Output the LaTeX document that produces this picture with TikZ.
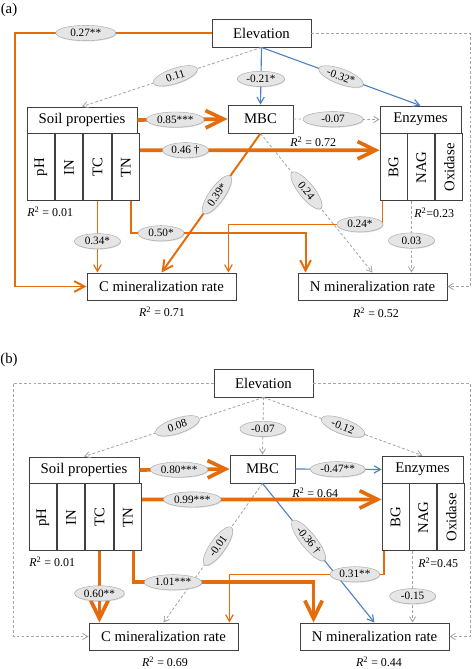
\documentclass[tikz,border=0pt]{standalone}
\usepackage{fontspec}
\usepackage{graphicx}
\setmainfont{Liberation Serif}
\usetikzlibrary{arrows.meta,shapes.geometric,shadows}

\definecolor{pathorange}{RGB}{228,108,10}
\definecolor{pathblue}{RGB}{79,129,189}
\definecolor{pathgray}{RGB}{165,165,165}

\tikzset{
  box/.style={draw=black!75, line width=0.6pt, fill=white, inner sep=0pt,
    font=\fontsize{10.5}{12}\selectfont},
  cell/.style={box, minimum width=0.6875cm, minimum height=1.675cm},
  rsq/.style={font=\fontsize{8.5}{10}\selectfont, inner sep=0pt},
  lbl/.style={ellipse, solid, draw=black!35, line width=0.3pt, fill=black!10,
    inner xsep=1.5pt, inner ysep=0pt, minimum height=0.38cm, minimum width=1.15cm,
    font=\fontsize{8}{9}\selectfont,
    drop shadow={shadow xshift=0.4pt, shadow yshift=-0.6pt, opacity=0.3}},
  arw/.style={-{Straight Barb[length=1pt 4.5, width=2pt 4]}},
  orthick/.style={draw=pathorange, line width=2.6pt, arw},
  ormid/.style={draw=pathorange, line width=1.4pt, arw},
  orthin/.style={draw=pathorange, line width=0.85pt, arw},
  blu/.style={draw=pathblue, line width=0.8pt, arw},
  gry/.style={draw=pathgray, line width=0.6pt, dash pattern=on 2pt off 1.5pt, arw}
}

\begin{document}
\begin{tikzpicture}[x=0.025cm, y=-0.025cm]
\useasboundingbox (0,0) rectangle (474,669);

% ---------- (a) ----------
\node[font=\fontsize{10.5}{12}\selectfont] (a-tag) at (9,10) {(a)};
\node[box, minimum width=2.475cm, minimum height=0.7cm] (a-elev) at (261.5,33) {Elevation};
\node[box, minimum width=2.75cm, minimum height=0.65cm] (a-soil) at (82,120) {Soil properties};
\node[cell, anchor=north west] (a-ph) at (a-soil.south west) {\rotatebox{90}{pH}};
\node[cell, anchor=north west] (a-in) at (a-ph.north east) {\rotatebox{90}{IN}};
\node[cell, anchor=north west] (a-tc) at (a-in.north east) {\rotatebox{90}{TC}};
\node[cell, anchor=north west] (a-tn) at (a-tc.north east) {\rotatebox{90}{TN}};
\node[box, minimum width=1.625cm, minimum height=0.7cm] (a-mbc) at (260.5,119) {MBC};
\node[box, minimum width=2.025cm, minimum height=0.675cm] (a-enz) at (420.5,119.5) {Enzymes};
\node[cell, minimum width=0.675cm, anchor=north west] (a-bg) at (a-enz.south west) {\rotatebox{90}{BG}};
\node[cell, minimum width=0.675cm, anchor=north west] (a-nag) at (a-bg.north east) {\rotatebox{90}{NAG}};
\node[cell, minimum width=0.675cm, anchor=north west] (a-oxi) at (a-nag.north east) {\rotatebox{90}{Oxidase}};
\node[box, minimum width=3.725cm, minimum height=0.675cm] (a-cmin) at (161.5,286.5) {C mineralization rate};
\node[box, minimum width=3.725cm, minimum height=0.675cm] (a-nmin) at (372.5,286.5) {N mineralization rate};

\node[rsq, anchor=west] (a-r-soil) at (27,212) {\textit{R}\textsuperscript{2} = 0.01};
\node[rsq, anchor=west] (a-r-mbc) at (290,142) {\textit{R}\textsuperscript{2} = 0.72};
\node[rsq, anchor=west] (a-r-enz) at (414,213) {\textit{R}\textsuperscript{2}=0.23};
\node[rsq] (a-r-cmin) at (162,312) {\textit{R}\textsuperscript{2} = 0.71};
\node[rsq] (a-r-nmin) at (376,313) {\textit{R}\textsuperscript{2} = 0.52};

\coordinate (a-left) at (15,33);
\coordinate (a-right) at (470,33);
\coordinate (a-tn-out) at ([xshift=0.14cm]a-tn.south);
\coordinate (a-bg-out) at ([xshift=0.08cm]a-bg.south west);
\coordinate (a-nag-out) at ([xshift=0.1cm]a-nag.south west);
\coordinate (a-nmin-in) at ([xshift=0.2cm]a-nmin.north west);
\coordinate (a-cmin-in) at ([xshift=-0.2cm]a-cmin.north east);

\draw[gry] (a-elev.south) -- node[lbl, sloped, pos=0.48] (a-l1) {0.11} (a-soil.north);
\draw[blu] (a-elev.south) -- node[lbl, pos=0.55] (a-l2) {-0.21*} (a-mbc.north);
\draw[blu] (a-elev.south) -- node[lbl, sloped, pos=0.5] (a-l3) {-0.32*} (a-enz.north);
\draw[gry] (a-elev.east) -- (a-right) |- (a-nmin.east);
\draw[gry] (a-mbc.east) -- node[lbl, minimum width=1.5cm, pos=0.46] (a-l4) {-0.07} (a-enz.west);
\draw[gry] (a-mbc.south) -- node[lbl, sloped, pos=0.41] (a-l5) {0.24} (a-nmin.north);
\draw[gry] (a-nag-out) -- node[lbl, pos=0.55] (a-l6) {0.03} (a-nag-out |- a-nmin.north);
\draw[ormid] (a-elev.west) -- node[lbl, minimum width=1.5cm, pos=0.64] (a-l7) {0.27**} (a-left) |- (a-cmin.west);
\draw[ormid] (a-mbc.south) -- node[lbl, sloped, pos=0.44] (a-l8) {0.39*} (a-cmin.north);
\draw[orthick] (a-soil.east) -- node[lbl, pos=0.42] (a-l9) {0.85***} (a-mbc.west);
\draw[orthick] ([yshift=-0.42cm]a-tn.north east) -- node[lbl, pos=0.19] (a-l10) {0.46 \dag} ([yshift=-0.42cm]a-bg.north west);
\draw[orthin] (a-tc.south) -- node[lbl, pos=0.56] (a-l11) {0.34*} (a-tc.south |- a-cmin.north);
\draw[ormid] (a-tn-out) -- ++(0,32) -| node[lbl, pos=0.085] (a-l12) {0.50*} (a-nmin-in);
\draw[orthin] (a-bg-out) -- ++(0,23) -| node[lbl, pos=0.074] (a-l13) {0.24*} (a-cmin-in);

% ---------- (b) ----------
\begin{scope}[shift={(2,350)}]
\node[font=\fontsize{10.5}{12}\selectfont] (b-tag) at (7,10) {(b)};
\node[box, minimum width=2.475cm, minimum height=0.7cm] (b-elev) at (261.5,33) {Elevation};
\node[box, minimum width=2.75cm, minimum height=0.65cm] (b-soil) at (82,120) {Soil properties};
\node[cell, anchor=north west] (b-ph) at (b-soil.south west) {\rotatebox{90}{pH}};
\node[cell, anchor=north west] (b-in) at (b-ph.north east) {\rotatebox{90}{IN}};
\node[cell, anchor=north west] (b-tc) at (b-in.north east) {\rotatebox{90}{TC}};
\node[cell, anchor=north west] (b-tn) at (b-tc.north east) {\rotatebox{90}{TN}};
\node[box, minimum width=1.625cm, minimum height=0.7cm] (b-mbc) at (260.5,119) {MBC};
\node[box, minimum width=2.025cm, minimum height=0.675cm] (b-enz) at (420.5,119.5) {Enzymes};
\node[cell, minimum width=0.675cm, anchor=north west] (b-bg) at (b-enz.south west) {\rotatebox{90}{BG}};
\node[cell, minimum width=0.675cm, anchor=north west] (b-nag) at (b-bg.north east) {\rotatebox{90}{NAG}};
\node[cell, minimum width=0.675cm, anchor=north west] (b-oxi) at (b-nag.north east) {\rotatebox{90}{Oxidase}};
\node[box, minimum width=3.725cm, minimum height=0.675cm] (b-cmin) at (161.5,286.5) {C mineralization rate};
\node[box, minimum width=3.725cm, minimum height=0.675cm] (b-nmin) at (372.5,286.5) {N mineralization rate};

\node[rsq, anchor=west] (b-r-soil) at (27,212) {\textit{R}\textsuperscript{2} = 0.01};
\node[rsq, anchor=west] (b-r-mbc) at (290,143) {\textit{R}\textsuperscript{2} = 0.64};
\node[rsq, anchor=west] (b-r-enz) at (416,213) {\textit{R}\textsuperscript{2}=0.45};
\node[rsq] (b-r-cmin) at (163,312) {\textit{R}\textsuperscript{2} = 0.69};
\node[rsq] (b-r-nmin) at (377,312) {\textit{R}\textsuperscript{2} = 0.44};

\coordinate (b-left) at (11,33);
\coordinate (b-right) at (468,33);
\coordinate (b-tn-out) at ([xshift=0.14cm]b-tn.south);
\coordinate (b-bg-out) at ([xshift=0.06cm]b-bg.south west);
\coordinate (b-nag-out) at ([xshift=0.08cm]b-nag.south west);
\coordinate (b-nmin-in) at ([xshift=0.35cm]b-nmin.north west);
\coordinate (b-cmin-in) at ([xshift=-0.225cm]b-cmin.north east);

\draw[gry] (b-elev.south) -- node[lbl, sloped, pos=0.48] (b-l1) {0.08} (b-soil.north);
\draw[gry] (b-elev.south) -- node[lbl, pos=0.55] (b-l2) {-0.07} (b-mbc.north);
\draw[gry] (b-elev.south) -- node[lbl, sloped, pos=0.5] (b-l3) {-0.12} (b-enz.north);
\draw[gry] (b-elev.west) -- (b-left) |- (b-cmin.west);
\draw[gry] (b-elev.east) -- (b-right) |- (b-nmin.east);
\draw[blu] (b-mbc.east) -- node[lbl, pos=0.49] (b-l4) {-0.47**} (b-enz.west);
\draw[gry] (b-mbc.south) -- node[lbl, sloped, pos=0.45] (b-l5) {-0.01} (b-cmin.north);
\draw[blu] (b-mbc.south) -- node[lbl, sloped, pos=0.41] (b-l6) {-0.36 \dag} (b-nmin.north);
\draw[gry] (b-nag-out) -- node[lbl, pos=0.63] (b-l7) {-0.15} (b-nag-out |- b-nmin.north);
\draw[orthick] (b-soil.east) -- node[lbl, pos=0.44] (b-l8) {0.80***} (b-mbc.west);
\draw[orthick] ([yshift=-0.4cm]b-tn.north east) -- node[lbl, pos=0.21] (b-l9) {0.99***} ([yshift=-0.4cm]b-bg.north west);
\draw[orthick] (b-tc.south) -- node[lbl, pos=0.59] (b-l10) {0.60**} (b-tc.south |- b-cmin.north);
\draw[orthick] (b-tn-out) -- ++(0,31) -| node[lbl, pos=0.11] (b-l11) {1.01***} (b-nmin-in);
\draw[orthin] (b-bg-out) -- ++(0,23) -| node[lbl, pos=0.094] (b-l12) {0.31**} (b-cmin-in);
\end{scope}
\end{tikzpicture}
\end{document}
